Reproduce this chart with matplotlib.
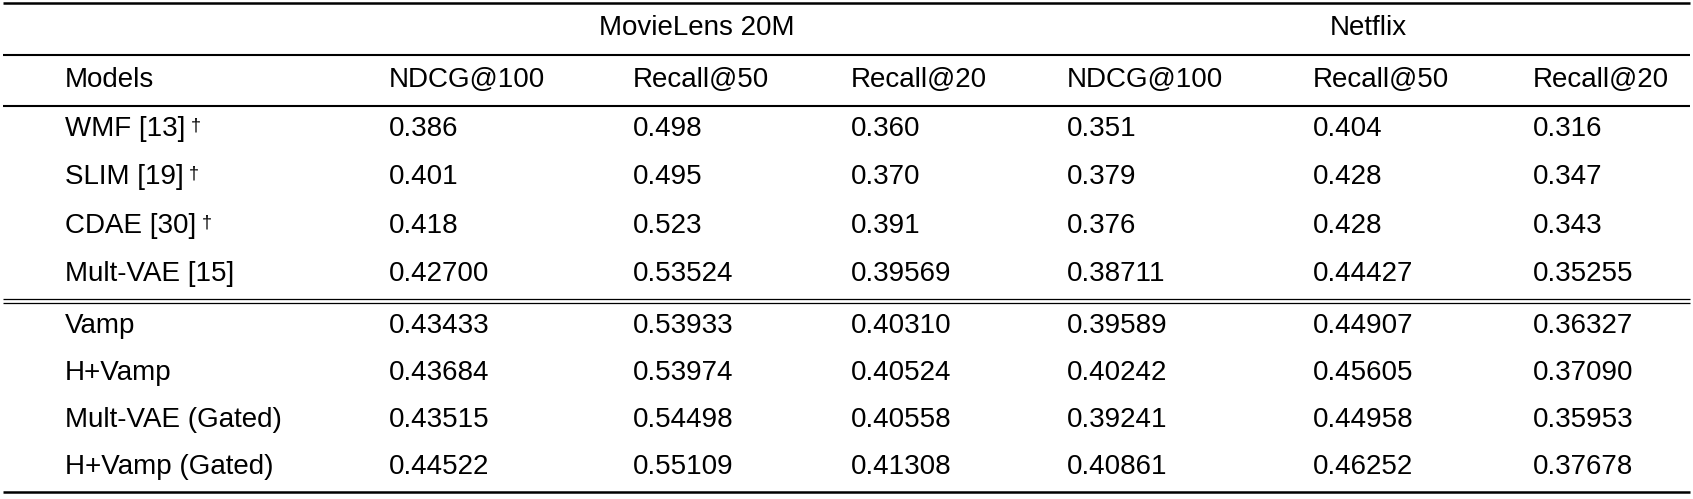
import matplotlib.pyplot as plt

plt.rcParams['font.family'] = ['Liberation Sans', 'DejaVu Sans']

# table content
groups = ["MovieLens 20M", "Netflix"]
metrics = ["NDCG@100", "Recall@50", "Recall@20"]
models = ["WMF [13]", "SLIM [19]", "CDAE [30]", "Mult-VAE [15]",
          "Vamp", "H+Vamp", "Mult-VAE (Gated)", "H+Vamp (Gated)"]
dagger = [True, True, True, False, False, False, False, False]
decimals = [3, 3, 3, 5, 5, 5, 5, 5]

ml_ndcg100 = [0.386, 0.401, 0.418, 0.42700, 0.43433, 0.43684, 0.43515, 0.44522]
ml_recall50 = [0.498, 0.495, 0.523, 0.53524, 0.53933, 0.53974, 0.54498, 0.55109]
ml_recall20 = [0.360, 0.370, 0.391, 0.39569, 0.40310, 0.40524, 0.40558, 0.41308]
nf_ndcg100 = [0.351, 0.379, 0.376, 0.38711, 0.39589, 0.40242, 0.39241, 0.40861]
nf_recall50 = [0.404, 0.428, 0.428, 0.44427, 0.44907, 0.45605, 0.44958, 0.46252]
nf_recall20 = [0.316, 0.347, 0.343, 0.35255, 0.36327, 0.37090, 0.35953, 0.37678]

columns = [ml_ndcg100, ml_recall50, ml_recall20, nf_ndcg100, nf_recall50, nf_recall20]

# layout (pixel coords, y down)
W, H = 1693, 499
col_x = [65, 389, 633, 851, 1067, 1313, 1533]
group_x = [697, 1368]
x0, x1 = 3, 1690
top, hline1, hline2, dbl, bottom = 3, 55, 106, 301, 492
fs = 20

fig = plt.figure(figsize=(W / 100, H / 100), dpi=100)
ax = fig.add_axes([0, 0, 1, 1])
ax.set_xlim(0, W)
ax.set_ylim(H, 0)
ax.axis('off')

# rules
ax.hlines([top, bottom], x0, x1, color='black', lw=1.8)
ax.hlines([hline1, hline2], x0, x1, color='black', lw=1.5)
ax.hlines([dbl - 2, dbl + 2], x0, x1, color='black', lw=0.9)

def baseline(y_a, y_b):
    return (y_a + y_b) / 2 + 6

# header rows
for gx, g in zip(group_x, groups):
    ax.text(gx, baseline(top, hline1), g, fontsize=fs, ha='center', va='baseline')
ax.text(col_x[0], baseline(hline1, hline2), "Models", fontsize=fs, va='baseline')
for i, m in enumerate(metrics * 2):
    ax.text(col_x[i + 1], baseline(hline1, hline2), m, fontsize=fs, va='baseline')

# body rows
n_top = 4
n_bot = len(models) - n_top
h_top = (dbl - 2 - hline2) / n_top
h_bot = (bottom - dbl - 2) / n_bot
for r, name in enumerate(models):
    if r < n_top:
        ya = hline2 + r * h_top
        yb = ya + h_top
    else:
        ya = dbl + 2 + (r - n_top) * h_bot
        yb = ya + h_bot
    y = baseline(ya, yb)
    t = ax.text(col_x[0], y, name, fontsize=fs, va='baseline')
    if dagger[r]:
        ax.annotate('\u2020', xy=(1, 1), xycoords=t, xytext=(4, -1),
                    textcoords='offset points', fontsize=13, va='top')
    for c, vals in enumerate(columns):
        ax.text(col_x[c + 1], y, f"{vals[r]:.{decimals[r]}f}", fontsize=fs, va='baseline')

fig.savefig('out.png', dpi=100, facecolor='white')
